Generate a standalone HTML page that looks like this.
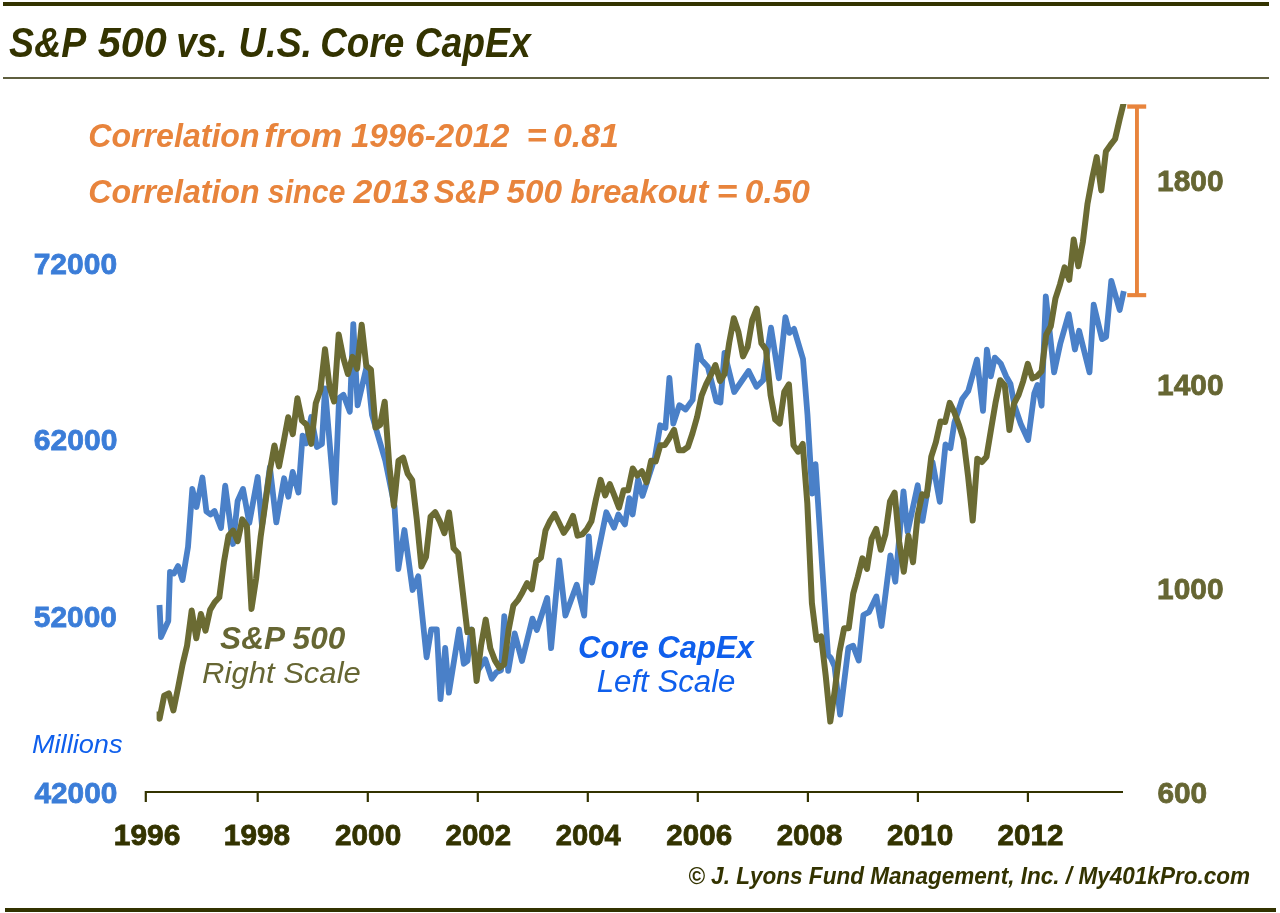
<!DOCTYPE html>
<html><head><meta charset="utf-8"><title>S&amp;P 500 vs. U.S. Core CapEx</title>
<style>
html,body{margin:0;padding:0;background:#fff;width:1280px;height:913px;overflow:hidden;}
svg{display:block;font-family:"Liberation Sans", sans-serif;will-change:transform;}
</style></head>
<body>
<svg width="1280" height="913" viewBox="0 0 1280 913">
<defs><clipPath id="plot"><rect x="100" y="104" width="1100" height="700"/></clipPath></defs>
<rect width="1280" height="913" fill="#fff"/>
<rect x="3" y="2" width="1266" height="4" fill="#333300"/>
<rect x="3" y="77" width="1266" height="2" fill="#5f5f3f"/>
<rect x="5" y="908" width="1271" height="4" fill="#333300"/>
<rect x="145" y="791" width="978" height="2" fill="#333300"/>
<rect x="144.7" y="791" width="2.2" height="11" fill="#333300"/>
<rect x="256.6" y="791" width="2.2" height="11" fill="#333300"/>
<rect x="366.7" y="791" width="2.2" height="11" fill="#333300"/>
<rect x="476.7" y="791" width="2.2" height="11" fill="#333300"/>
<rect x="586.7" y="791" width="2.2" height="11" fill="#333300"/>
<rect x="696.7" y="791" width="2.2" height="11" fill="#333300"/>
<rect x="806.8" y="791" width="2.2" height="11" fill="#333300"/>
<rect x="916.8" y="791" width="2.2" height="11" fill="#333300"/>
<rect x="1026.8" y="791" width="2.2" height="11" fill="#333300"/>
<path d="M159.5 605.0 L161.0 637.0 L168.3 621.0 L170.0 572.0 L174.0 573.5 L178.0 566.0 L182.5 580.0 L188.0 547.0 L192.3 489.0 L196.5 507.0 L202.4 477.5 L206.4 511.5 L210.5 514.5 L214.5 511.0 L221.0 528.0 L225.2 485.7 L233.0 544.0 L237.6 501.0 L243.0 489.0 L249.3 523.0 L257.7 477.0 L262.0 526.0 L269.9 467.0 L276.3 522.4 L284.1 478.3 L288.4 496.8 L292.7 471.9 L298.4 492.5 L302.6 435.6 L306.2 443.4 L311.2 417.0 L316.9 447.0 L321.9 444.1 L325.0 388.3 L334.7 502.5 L339.1 398.0 L343.4 394.7 L349.8 411.7 L353.3 324.2 L357.6 405.3 L366.9 365.5 L372.0 415.0 L385.3 460.6 L394.5 506.0 L398.3 569.0 L404.4 530.0 L412.6 590.0 L418.2 576.3 L426.6 657.3 L431.2 629.4 L436.8 629.4 L440.5 699.2 L445.2 648.0 L448.9 692.7 L459.1 629.4 L463.8 663.8 L467.5 661.0 L471.2 629.4 L477.0 672.0 L485.2 659.2 L491.7 678.7 L496.4 672.2 L501.0 670.4 L504.3 616.1 L508.2 670.9 L514.7 633.4 L522.0 661.0 L532.4 618.6 L536.8 630.0 L547.2 597.9 L551.1 648.2 L559.2 560.5 L565.4 615.6 L576.7 584.7 L584.2 615.6 L588.8 536.4 L592.0 582.5 L606.3 512.3 L614.0 527.7 L618.4 514.5 L624.9 524.4 L629.3 498.1 L632.6 514.5 L638.1 479.5 L642.5 495.9 L654.9 457.7 L660.2 425.3 L665.4 427.9 L669.4 378.0 L673.3 423.6 L679.4 405.2 L685.6 409.5 L692.6 399.9 L697.8 345.6 L701.3 359.6 L707.9 367.0 L716.4 401.2 L720.4 402.5 L724.5 353.0 L734.2 392.0 L748.6 371.0 L756.5 386.8 L763.1 380.2 L771.0 327.6 L778.9 378.2 L785.4 317.1 L789.4 332.9 L794.0 328.9 L803.0 359.0 L807.5 415.0 L812.2 493.7 L815.5 464.2 L828.0 655.0 L830.7 657.8 L834.5 666.2 L840.1 714.6 L848.4 647.6 L853.1 645.7 L858.7 660.6 L863.4 615.0 L868.9 612.2 L876.4 596.4 L881.5 626.0 L890.4 555.4 L895.3 581.7 L903.5 491.3 L907.6 532.0 L917.7 485.3 L922.4 520.9 L932.5 462.0 L939.8 501.8 L945.5 444.4 L950.4 448.3 L954.4 422.7 L962.2 399.0 L968.2 391.1 L977.0 359.6 L983.0 410.8 L986.9 349.7 L990.8 376.3 L994.8 357.6 L1000.7 363.5 L1006.2 376.5 L1010.5 384.0 L1014.6 406.0 L1020.8 424.0 L1028.1 440.0 L1034.3 393.2 L1037.5 384.9 L1041.6 405.7 L1045.8 296.4 L1054.1 372.4 L1060.4 343.2 L1068.7 314.1 L1074.9 349.5 L1079.1 330.8 L1089.5 372.4 L1093.7 304.7 L1102.0 339.1 L1106.1 337.0 L1111.3 280.8 L1119.7 310.0 L1123.8 291.2" fill="none" stroke="#4a80c8" stroke-width="5.8" stroke-linejoin="round" stroke-linecap="butt"/>
<path d="M159.6 711.5 L159.6 718.7 L164.2 695.7 L168.8 693.3 L173.4 710.4 L178.0 688.0 L182.6 664.2 L187.1 645.5 L191.7 610.4 L196.3 638.2 L200.9 614.0 L205.5 630.6 L210.1 609.9 L214.7 602.3 L219.3 597.3 L223.9 562.3 L228.5 535.7 L233.1 530.6 L237.7 541.2 L242.3 519.4 L246.9 526.1 L251.5 608.9 L256.1 578.6 L260.6 537.2 L265.2 504.3 L269.8 471.0 L274.4 445.5 L279.0 466.4 L283.6 442.1 L288.2 417.3 L292.8 434.2 L297.4 398.3 L302.0 420.6 L306.6 424.8 L311.2 443.9 L315.8 403.2 L320.4 390.1 L325.0 349.3 L329.6 387.3 L334.1 401.5 L338.7 334.5 L343.3 357.9 L347.9 374.0 L352.5 356.8 L357.1 368.8 L361.7 324.8 L366.3 365.9 L370.9 369.5 L375.5 427.6 L380.1 424.9 L384.7 401.7 L389.3 465.6 L393.9 506.0 L398.5 460.8 L403.1 457.6 L407.6 473.5 L412.2 480.2 L416.8 519.5 L421.4 566.5 L426.0 557.0 L430.6 516.6 L435.2 512.2 L439.8 521.3 L444.4 533.2 L449.0 512.5 L453.6 548.3 L458.2 553.2 L462.8 592.4 L467.4 632.1 L472.0 629.8 L476.6 680.9 L481.1 645.2 L485.7 619.6 L490.3 648.2 L494.9 660.4 L499.5 667.8 L504.1 664.3 L508.7 629.4 L513.3 605.7 L517.9 600.2 L522.5 592.2 L527.1 583.2 L531.7 589.3 L536.3 561.6 L540.9 557.8 L545.5 530.5 L550.1 520.8 L554.6 513.8 L559.2 523.3 L563.8 532.9 L568.4 526.1 L573.0 515.9 L577.6 535.7 L582.2 534.4 L586.8 529.2 L591.4 521.3 L596.0 499.1 L600.6 479.8 L605.2 495.4 L609.8 484.0 L614.4 495.7 L619.0 507.7 L623.6 490.2 L628.1 490.3 L632.7 468.5 L637.3 475.6 L641.9 471.3 L646.5 482.3 L651.1 460.8 L655.7 461.4 L660.3 445.3 L664.9 445.0 L669.5 437.8 L674.1 429.8 L678.7 450.3 L683.3 450.3 L687.9 447.0 L692.5 433.2 L697.1 417.0 L701.6 395.6 L706.2 384.1 L710.8 375.2 L715.4 365.1 L720.0 381.0 L724.6 373.9 L729.2 342.7 L733.8 318.2 L738.4 332.0 L743.0 356.4 L747.6 346.9 L752.2 320.2 L756.8 308.7 L761.4 343.3 L766.0 349.8 L770.6 395.3 L775.2 419.6 L779.7 423.6 L784.3 391.8 L788.9 384.3 L793.5 445.3 L798.1 451.7 L802.7 443.9 L807.3 502.9 L811.9 603.1 L816.5 639.9 L821.1 636.3 L825.7 675.6 L830.3 721.6 L834.9 689.8 L839.5 651.8 L844.1 628.3 L848.7 628.2 L853.2 593.6 L857.8 576.8 L862.4 558.3 L867.0 568.9 L871.6 538.8 L876.2 528.9 L880.8 549.8 L885.4 534.3 L890.0 501.4 L894.6 492.6 L899.2 541.9 L903.8 571.7 L908.4 535.8 L913.0 562.3 L917.6 515.7 L922.2 494.3 L926.7 495.7 L931.3 456.6 L935.9 442.2 L940.5 421.4 L945.1 422.1 L949.7 402.9 L954.3 412.2 L958.9 424.7 L963.5 439.1 L968.1 476.3 L972.7 520.6 L977.3 458.8 L981.9 462.0 L986.5 456.7 L991.1 428.9 L995.7 401.8 L1000.2 380.2 L1004.8 385.5 L1009.4 429.9 L1014.0 403.6 L1018.6 394.9 L1023.2 381.1 L1027.8 363.8 L1032.4 378.3 L1037.0 376.2 L1041.6 371.2 L1046.2 334.7 L1050.8 326.3 L1055.4 298.7 L1060.0 284.3 L1064.6 267.4 L1069.2 279.8 L1073.7 239.6 L1078.3 266.3 L1082.9 241.7 L1087.5 203.7 L1092.1 178.7 L1096.7 157.1 L1101.3 190.4 L1105.9 151.5 L1110.5 144.9 L1115.1 139.0 L1119.7 119.0 L1124.3 100.4" fill="none" stroke="#6b6b33" stroke-width="6" stroke-linejoin="round" stroke-linecap="butt" clip-path="url(#plot)"/>
<rect x="1135" y="106" width="3.9" height="189" fill="#e8843c"/>
<rect x="1127.2" y="104.4" width="19" height="4.3" fill="#e8843c"/>
<rect x="1127.2" y="293.1" width="19" height="4.1" fill="#e8843c"/>
<text x="9.1" y="57.2" font-size="42.6" font-weight="bold" font-style="italic" fill="#333300" textLength="77.2" lengthAdjust="spacingAndGlyphs">S&amp;P</text>
<text x="97.7" y="57.2" font-size="42.6" font-weight="bold" font-style="italic" fill="#333300" textLength="69.0" lengthAdjust="spacingAndGlyphs">500</text>
<text x="176.3" y="57.2" font-size="42.6" font-weight="bold" font-style="italic" fill="#333300" textLength="51.2" lengthAdjust="spacingAndGlyphs">vs.</text>
<text x="238.6" y="57.2" font-size="42.6" font-weight="bold" font-style="italic" fill="#333300" textLength="73.5" lengthAdjust="spacingAndGlyphs">U.S.</text>
<text x="320.2" y="57.2" font-size="42.6" font-weight="bold" font-style="italic" fill="#333300" textLength="84.1" lengthAdjust="spacingAndGlyphs">Core</text>
<text x="414.7" y="57.2" font-size="42.6" font-weight="bold" font-style="italic" fill="#333300" textLength="116.0" lengthAdjust="spacingAndGlyphs">CapEx</text>
<text x="88.3" y="146.7" font-size="34.0" font-weight="bold" font-style="italic" fill="#e8843c" textLength="171.3" lengthAdjust="spacingAndGlyphs">Correlation</text>
<text x="264.3" y="146.7" font-size="34.0" font-weight="bold" font-style="italic" fill="#e8843c" textLength="78.0" lengthAdjust="spacingAndGlyphs">from</text>
<text x="350.9" y="146.7" font-size="34.0" font-weight="bold" font-style="italic" fill="#e8843c" textLength="158.7" lengthAdjust="spacingAndGlyphs">1996-2012</text>
<text x="526.4" y="146.7" font-size="34.0" font-weight="bold" font-style="italic" fill="#e8843c" textLength="20.3" lengthAdjust="spacingAndGlyphs">=</text>
<text x="552.9" y="146.7" font-size="34.0" font-weight="bold" font-style="italic" fill="#e8843c" textLength="66.1" lengthAdjust="spacingAndGlyphs">0.81</text>
<text x="88.3" y="202.8" font-size="34.0" font-weight="bold" font-style="italic" fill="#e8843c" textLength="171.3" lengthAdjust="spacingAndGlyphs">Correlation</text>
<text x="267.8" y="202.8" font-size="34.0" font-weight="bold" font-style="italic" fill="#e8843c" textLength="77.6" lengthAdjust="spacingAndGlyphs">since</text>
<text x="353.5" y="202.8" font-size="34.0" font-weight="bold" font-style="italic" fill="#e8843c" textLength="75.4" lengthAdjust="spacingAndGlyphs">2013</text>
<text x="433.8" y="202.8" font-size="34.0" font-weight="bold" font-style="italic" fill="#e8843c" textLength="65.1" lengthAdjust="spacingAndGlyphs">S&amp;P</text>
<text x="506.5" y="202.8" font-size="34.0" font-weight="bold" font-style="italic" fill="#e8843c" textLength="55.6" lengthAdjust="spacingAndGlyphs">500</text>
<text x="570.5" y="202.8" font-size="34.0" font-weight="bold" font-style="italic" fill="#e8843c" textLength="137.9" lengthAdjust="spacingAndGlyphs">breakout</text>
<text x="716.5" y="202.8" font-size="34.0" font-weight="bold" font-style="italic" fill="#e8843c" textLength="21.0" lengthAdjust="spacingAndGlyphs">=</text>
<text x="744.8" y="202.8" font-size="34.0" font-weight="bold" font-style="italic" fill="#e8843c" textLength="65.1" lengthAdjust="spacingAndGlyphs">0.50</text>
<text x="33.7" y="273.7" font-size="30.0" font-weight="bold" font-style="normal" fill="#3b7dd8" textLength="83.4" lengthAdjust="spacingAndGlyphs" stroke="#3b7dd8" stroke-width="0.80">72000</text>
<text x="33.8" y="450.1" font-size="30.0" font-weight="bold" font-style="normal" fill="#3b7dd8" textLength="83.6" lengthAdjust="spacingAndGlyphs" stroke="#3b7dd8" stroke-width="0.80">62000</text>
<text x="33.8" y="626.5" font-size="30.0" font-weight="bold" font-style="normal" fill="#3b7dd8" textLength="83.2" lengthAdjust="spacingAndGlyphs" stroke="#3b7dd8" stroke-width="0.80">52000</text>
<text x="34.4" y="802.7" font-size="30.0" font-weight="bold" font-style="normal" fill="#3b7dd8" textLength="83.0" lengthAdjust="spacingAndGlyphs" stroke="#3b7dd8" stroke-width="0.80">42000</text>
<text x="31.9" y="753.3" font-size="25.7" font-weight="normal" font-style="italic" fill="#0f5fec" textLength="90.7" lengthAdjust="spacingAndGlyphs">Millions</text>
<text x="1157.1" y="191.4" font-size="30.0" font-weight="bold" font-style="normal" fill="#666633" textLength="66.5" lengthAdjust="spacingAndGlyphs" stroke="#666633" stroke-width="0.80">1800</text>
<text x="1157.1" y="395.3" font-size="30.0" font-weight="bold" font-style="normal" fill="#666633" textLength="66.5" lengthAdjust="spacingAndGlyphs" stroke="#666633" stroke-width="0.80">1400</text>
<text x="1157.1" y="599.1" font-size="30.0" font-weight="bold" font-style="normal" fill="#666633" textLength="66.5" lengthAdjust="spacingAndGlyphs" stroke="#666633" stroke-width="0.80">1000</text>
<text x="1157.4" y="803.0" font-size="30.0" font-weight="bold" font-style="normal" fill="#666633" textLength="49.8" lengthAdjust="spacingAndGlyphs" stroke="#666633" stroke-width="0.80">600</text>
<text x="113.8" y="845.4" font-size="30.0" font-weight="bold" font-style="normal" fill="#333300" textLength="66.6" lengthAdjust="spacingAndGlyphs" stroke="#333300" stroke-width="0.80">1996</text>
<text x="223.8" y="845.4" font-size="30.0" font-weight="bold" font-style="normal" fill="#333300" textLength="66.4" lengthAdjust="spacingAndGlyphs" stroke="#333300" stroke-width="0.80">1998</text>
<text x="335.0" y="845.4" font-size="30.0" font-weight="bold" font-style="normal" fill="#333300" textLength="66.2" lengthAdjust="spacingAndGlyphs" stroke="#333300" stroke-width="0.80">2000</text>
<text x="445.5" y="845.4" font-size="30.0" font-weight="bold" font-style="normal" fill="#333300" textLength="65.6" lengthAdjust="spacingAndGlyphs" stroke="#333300" stroke-width="0.80">2002</text>
<text x="555.8" y="845.4" font-size="30.0" font-weight="bold" font-style="normal" fill="#333300" textLength="64.9" lengthAdjust="spacingAndGlyphs" stroke="#333300" stroke-width="0.80">2004</text>
<text x="666.3" y="845.4" font-size="30.0" font-weight="bold" font-style="normal" fill="#333300" textLength="65.8" lengthAdjust="spacingAndGlyphs" stroke="#333300" stroke-width="0.80">2006</text>
<text x="776.7" y="845.4" font-size="30.0" font-weight="bold" font-style="normal" fill="#333300" textLength="65.6" lengthAdjust="spacingAndGlyphs" stroke="#333300" stroke-width="0.80">2008</text>
<text x="887.0" y="845.4" font-size="30.0" font-weight="bold" font-style="normal" fill="#333300" textLength="66.2" lengthAdjust="spacingAndGlyphs" stroke="#333300" stroke-width="0.80">2010</text>
<text x="997.5" y="845.4" font-size="30.0" font-weight="bold" font-style="normal" fill="#333300" textLength="65.9" lengthAdjust="spacingAndGlyphs" stroke="#333300" stroke-width="0.80">2012</text>
<text x="220.1" y="649.0" font-size="32.0" font-weight="bold" font-style="italic" fill="#666633" textLength="125.2" lengthAdjust="spacingAndGlyphs">S&amp;P 500</text>
<text x="202.1" y="683.4" font-size="30.0" font-weight="normal" font-style="italic" fill="#666633" textLength="158.7" lengthAdjust="spacingAndGlyphs">Right Scale</text>
<text x="578.1" y="657.5" font-size="32.0" font-weight="bold" font-style="italic" fill="#0f5fec" textLength="175.7" lengthAdjust="spacingAndGlyphs">Core CapEx</text>
<text x="596.7" y="691.9" font-size="31.0" font-weight="normal" font-style="italic" fill="#0f5fec" textLength="138.8" lengthAdjust="spacingAndGlyphs">Left Scale</text>
<text x="688.2" y="884.2" font-size="23.0" font-weight="bold" font-style="italic" fill="#333300" textLength="562.0" lengthAdjust="spacingAndGlyphs">&#169; J. Lyons Fund Management, Inc. / My401kPro.com</text>
</svg>
</body></html>
